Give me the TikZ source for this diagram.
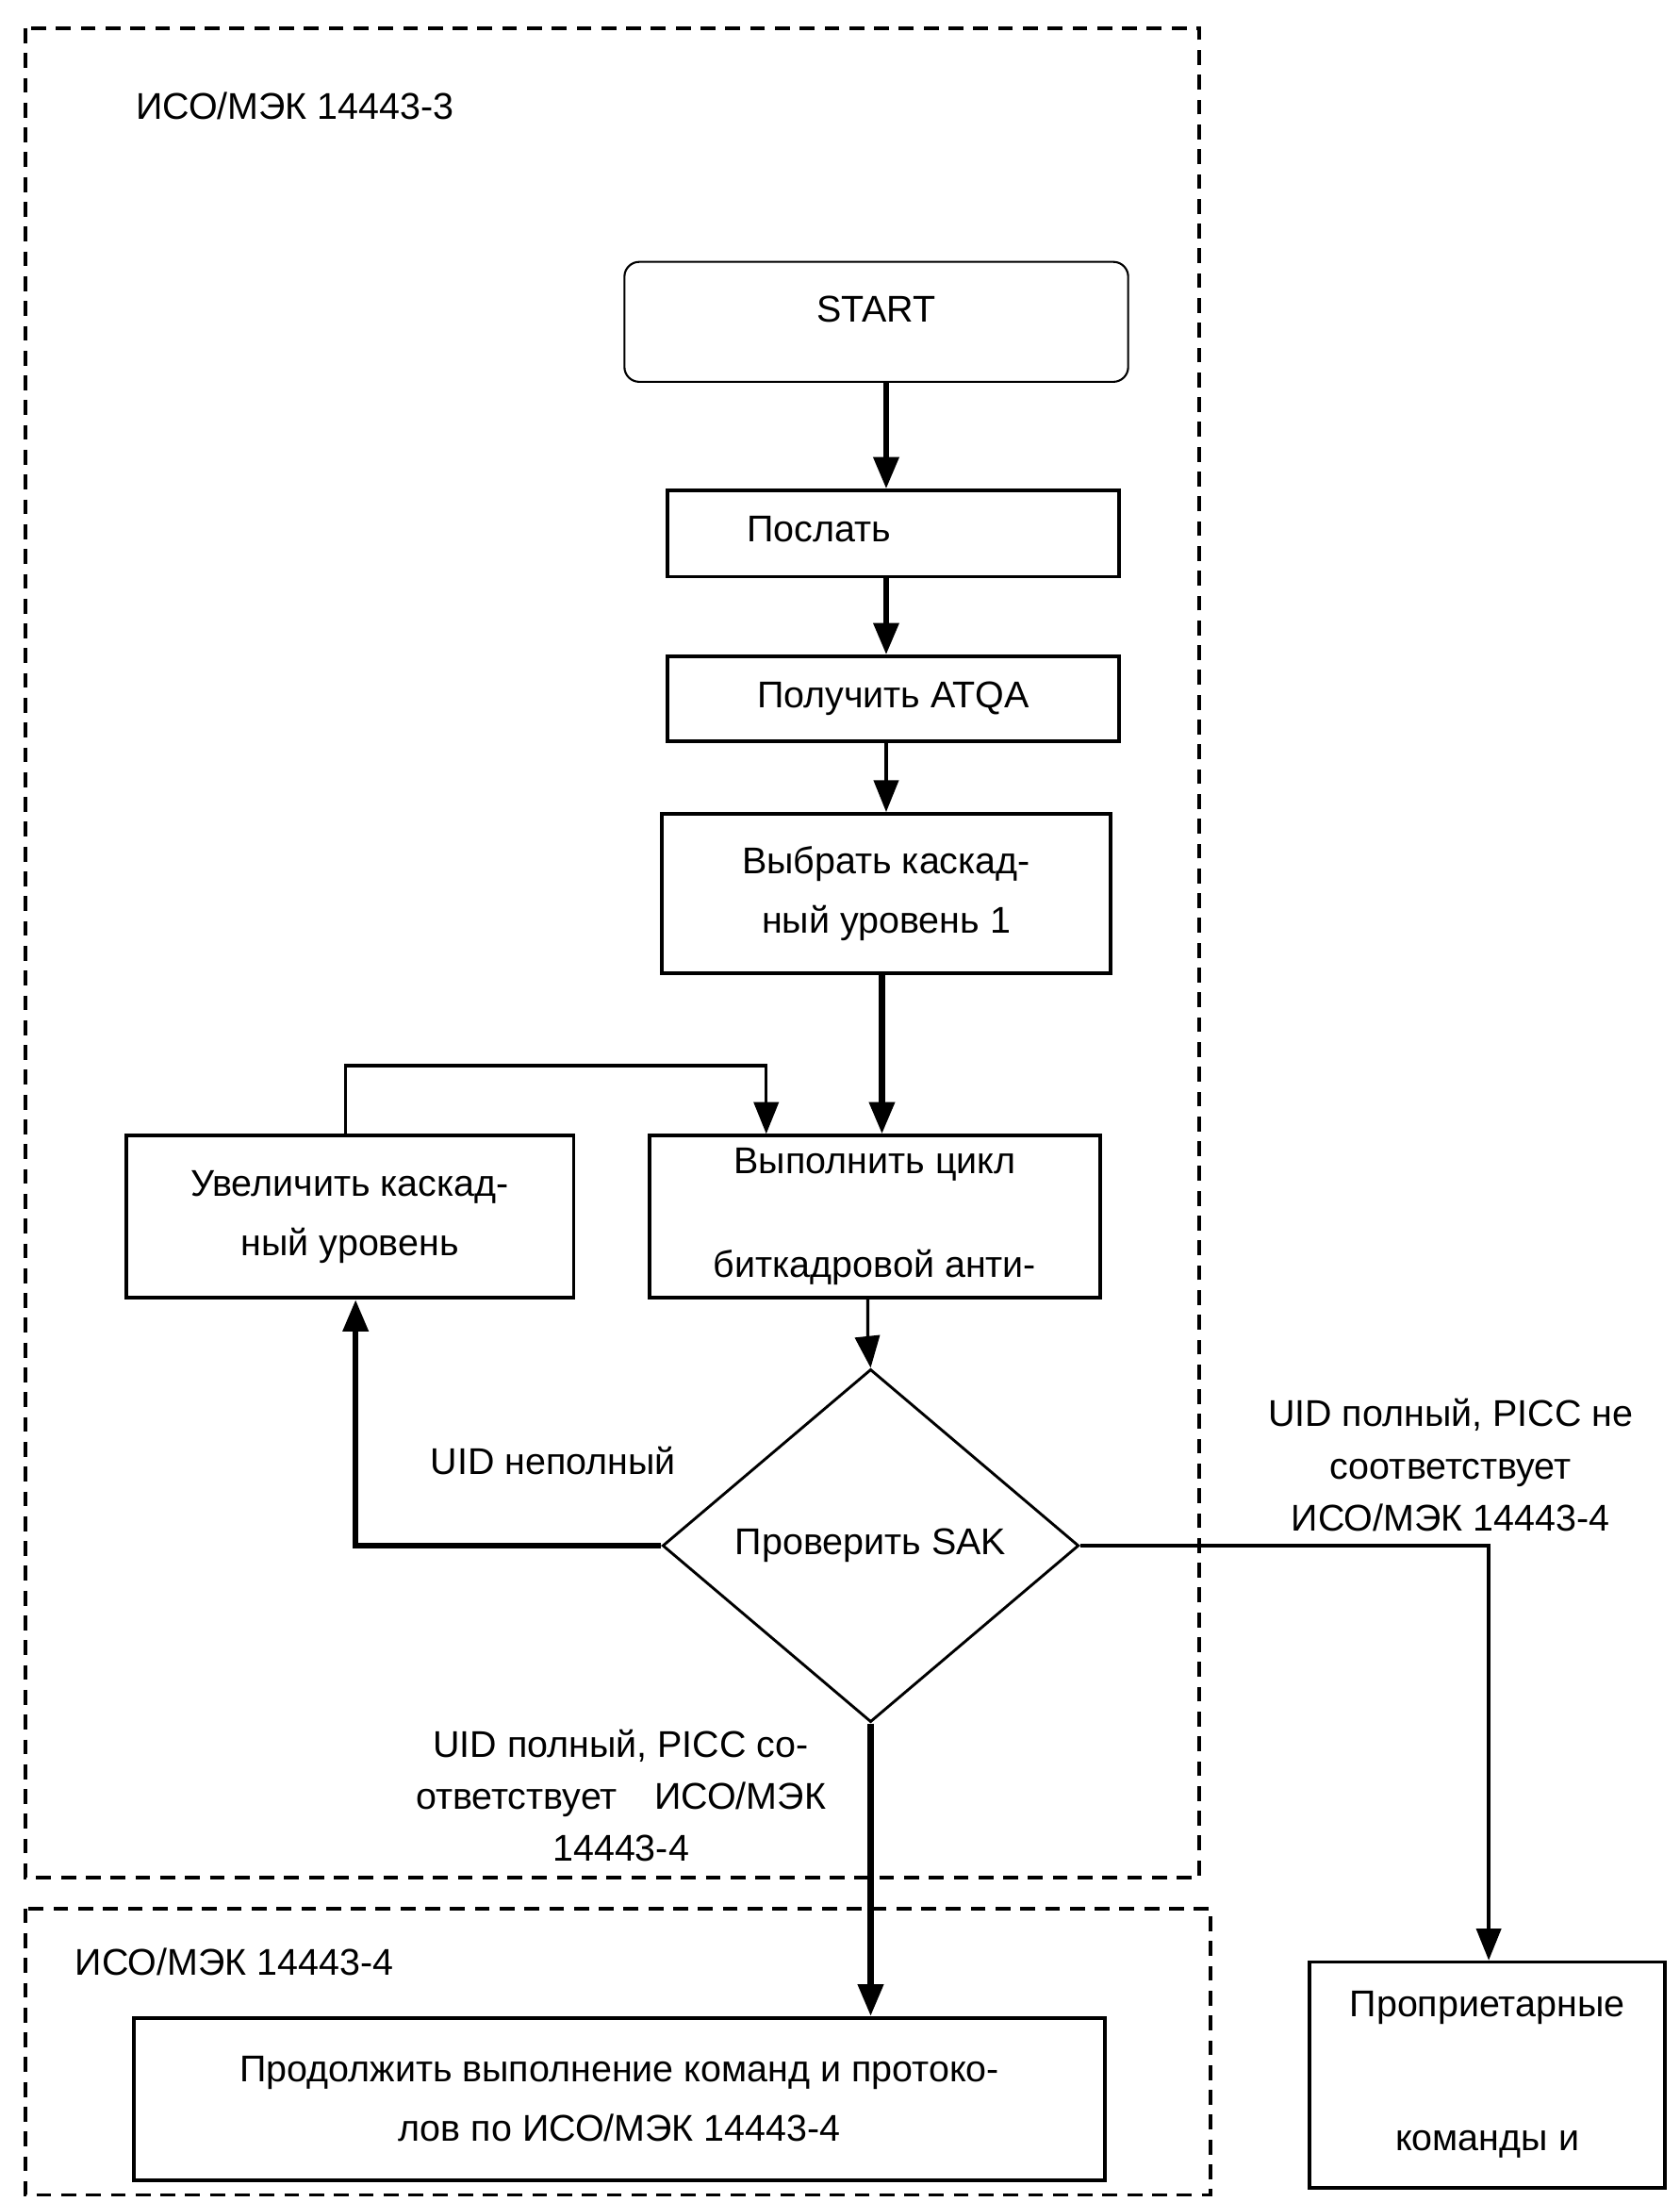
\documentclass[tikz,border=0pt]{standalone}
\usepackage{fontspec}
\setmainfont{Liberation Sans}
\usetikzlibrary{shapes.geometric, arrows.meta, positioning, calc}

\begin{document}
\begin{tikzpicture}[
    x=0.02cm, y=-0.02cm,
    every node/.style={font=\fontsize{15}{18}\selectfont},
    box/.style={
        rectangle,
        draw=black,
        line width=1.4pt,
        align=center,
        inner sep=0pt
    },
    zone/.style={
        draw=black,
        line width=1.4pt,
        dash pattern=on 6pt off 4pt
    },
    myarrow/.style={
        -{Triangle[length=4.5mm, width=3.5mm]},
        line width=2.4pt
    },
    thinarrow/.style={
        -{Triangle[length=4.5mm, width=3.5mm]},
        line width=1.3pt
    },
    mylabel/.style={
        align=center,
        font=\fontsize{15}{21}\selectfont
    }
]
\useasboundingbox (0,0) rectangle (1190,1560);

% Zones
\draw[zone] (18,20) rectangle (850,1330);
\draw[zone] (18,1352) rectangle (858,1555);
\node[anchor=west] (zonea) at (90,75) {ИСО/МЭК 14443-3};
\node[anchor=west] (zoneb) at (47,1390) {ИСО/МЭК 14443-4};

% Main column
\node[box, rounded corners=6pt, line width=0.8pt, minimum width=357*0.02cm, minimum height=85*0.02cm] (start) at (621,228) {\raisebox{10pt}{START}};
\node[box, minimum width=320*0.02cm, minimum height=61*0.02cm] (send) at (633,378) {\hspace{-60pt}\raisebox{4pt}{Послать}};
\node[box, minimum width=320*0.02cm, minimum height=60*0.02cm] (atqa) at (633,495) {Получить ATQA};
\node[box, minimum width=318*0.02cm, minimum height=113*0.02cm] (sel) at (628,633) {Выбрать каскад-\\[6pt]ный уровень 1};
\node[box, minimum width=319*0.02cm, minimum height=115*0.02cm] (loop) at (620,862) {Выполнить цикл\\[24pt]биткадровой анти-};
\node[box, minimum width=317*0.02cm, minimum height=115*0.02cm] (inc) at (248,862) {Увеличить каскад-\\[6pt]ный уровень};
\node[diamond, draw=black, line width=1.1pt, minimum width=295*0.02cm, minimum height=250*0.02cm, inner sep=0pt, aspect=1.18] (sak) at (617,1095) {Проверить SAK};

% Bottom boxes
\node[box, minimum width=688*0.02cm, minimum height=115*0.02cm] (cont) at (439,1487) {Продолжить выполнение команд и протоко-\\[6pt]лов по ИСО/МЭК 14443-4};
\node[box, minimum width=252*0.02cm, minimum height=160*0.02cm] (prop) at (1054,1470) {Проприетарные\\[36pt]команды и};

% Arrows
\draw[myarrow] (start.south -| 628,0) -- (send.north -| 628,0);
\draw[myarrow] (send.south -| 628,0) -- (atqa.north -| 628,0);
\draw[thinarrow] (atqa.south -| 628,0) -- (sel.north -| 628,0);
\draw[myarrow] (sel.south -| 625,0) -- (loop.north -| 625,0);
\draw[thinarrow] (inc.north -| 245,0) -- (245,755) -- (543,755) -- (loop.north -| 543,0);
\draw[thinarrow] (loop.south -| 615,0) -- (615,950) -- (sak.north);
\draw[myarrow] (sak.west) -- (252,1095) -- (inc.south -| 252,0);
\draw[myarrow] (sak.south) -- (cont.north -| sak.south);
\draw[thinarrow] (sak.east) -- (1055,1095) -- (prop.north -| 1055,0);

% Labels
\node[mylabel] (lbla) at (392,1035) {UID неполный};
\node[mylabel] (lblb) at (1028,1038) {UID полный, PICC не\\соответствует\\ИСО/МЭК 14443-4};
\node[mylabel] (lblc) at (440,1272) {UID полный, PICC со-\\ответствует\quad ИСО/МЭК\\14443-4};
\end{tikzpicture}
\end{document}
